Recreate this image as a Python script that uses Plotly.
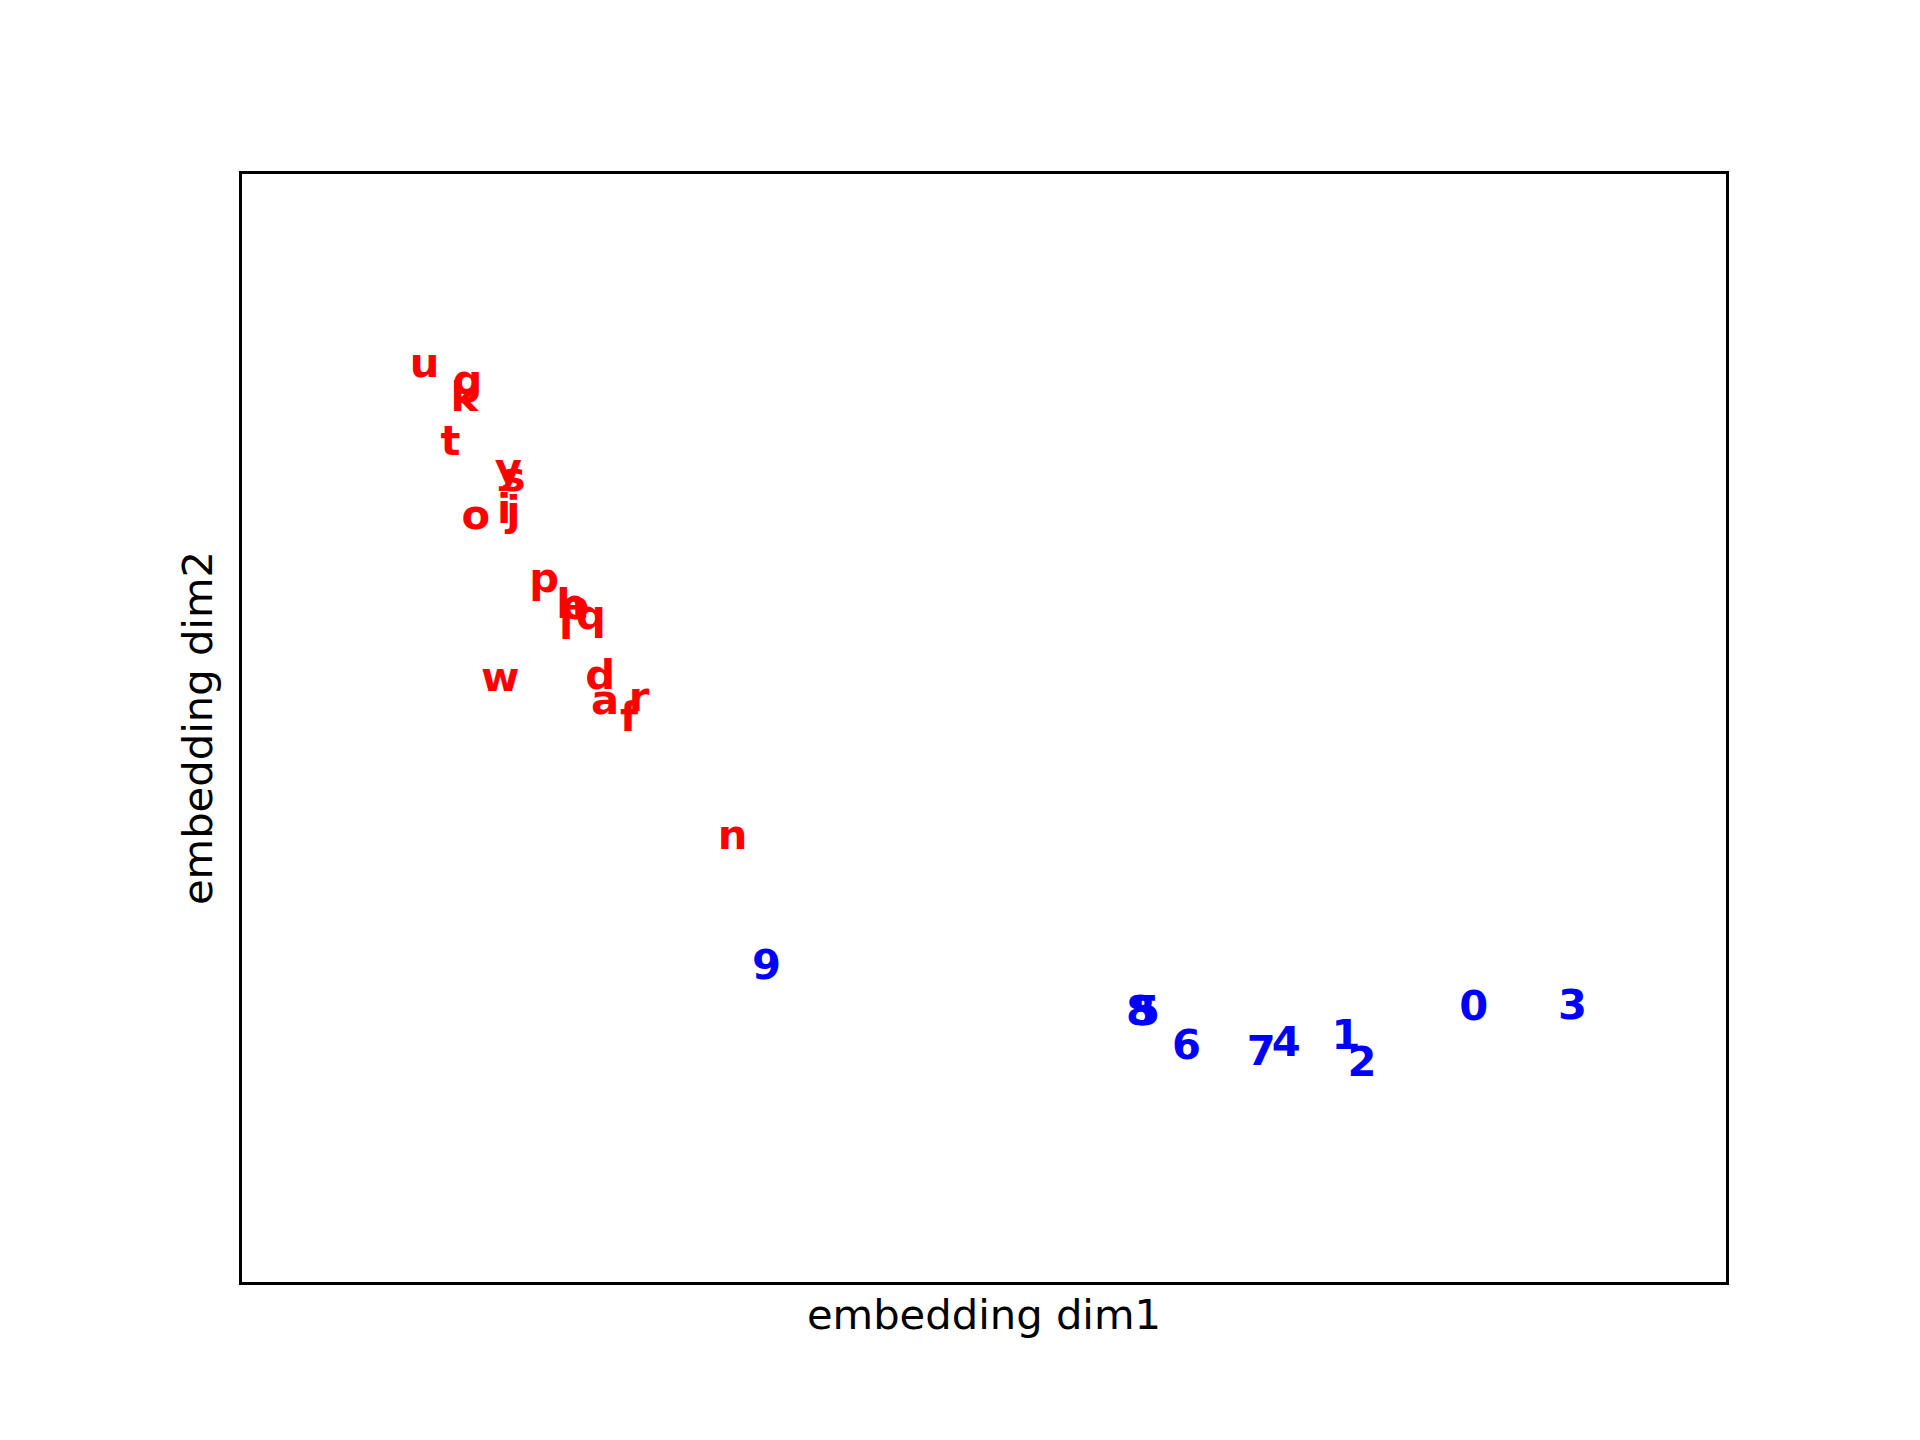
import plotly.graph_objects as go

# Red group (letters): label, embedding dim1, embedding dim2
letters = ["u", "g", "k", "t", "y", "s", "o", "i", "j", "p", "h", "e", "l", "q",
           "w", "d", "a", "f", "r", "n"]
letters_x = [1.230, 1.519, 1.499, 1.405, 1.794, 1.828, 1.576, 1.767, 1.828, 2.036,
             2.218, 2.245, 2.184, 2.352, 1.741, 2.413, 2.446, 2.608, 2.675, 3.306]
letters_y = [8.258, 8.109, 7.952, 7.555, 7.311, 7.230, 6.888, 6.942, 6.924, 6.319,
             6.085, 6.076, 5.896, 5.986, 5.427, 5.445, 5.219, 5.066, 5.246, 4.002]

# Blue group (digits)
digits = ["9", "5", "8", "6", "7", "4", "1", "2", "0", "3"]
digits_x = [3.535, 6.089, 6.055, 6.364, 6.868, 7.036, 7.440, 7.547, 8.300, 8.965]
digits_y = [2.830, 2.415, 2.415, 2.108, 2.054, 2.136, 2.199, 1.955, 2.460, 2.469]

label_font = dict(family="DejaVu Sans", size=41.7, weight="bold")

fig = go.Figure()
fig.add_trace(go.Scatter(
    x=letters_x, y=letters_y, text=letters, mode="text",
    textposition="middle center",
    textfont=dict(color="#ff0000", **label_font),
    showlegend=False, hoverinfo="skip"))
fig.add_trace(go.Scatter(
    x=digits_x, y=digits_y, text=digits, mode="text",
    textposition="middle center",
    textfont=dict(color="#0000ff", **label_font),
    showlegend=False, hoverinfo="skip"))

axis_common = dict(
    showgrid=False, zeroline=False, showticklabels=False, ticks="",
    showline=True, mirror=True, linecolor="black", linewidth=3,
)
fig.update_xaxes(range=[0, 10], title=dict(text="embedding dim1",
                 font=dict(family="DejaVu Sans", size=41.7, color="black"),
                 standoff=16), **axis_common)
fig.update_yaxes(range=[0, 10], title=dict(text="embedding dim2",
                 font=dict(family="DejaVu Sans", size=41.7, color="black"),
                 standoff=14), **axis_common)

fig.update_layout(
    width=1912, height=1432,
    margin=dict(l=234, r=194, t=166, b=158, autoexpand=False),
    paper_bgcolor="white", plot_bgcolor="white",
)

fig.write_html("out.html")
